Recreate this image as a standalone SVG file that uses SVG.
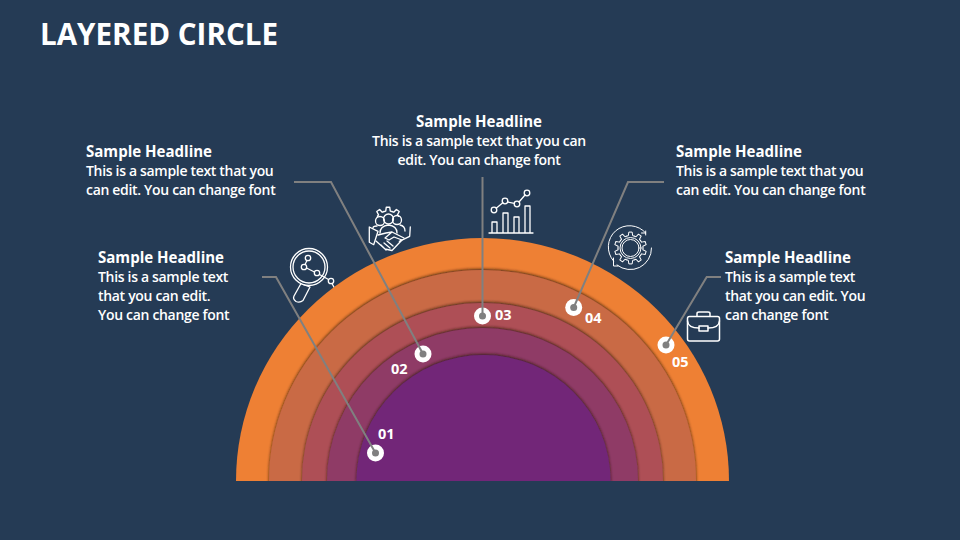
<svg xmlns="http://www.w3.org/2000/svg" width="960" height="540" viewBox="0 0 960 540">
<style>
text{font-family:"Open Sans","Noto Sans","Liberation Sans",sans-serif;fill:#fff}
.t{font-size:31px;font-weight:700}
.h{font-size:16px;font-weight:700}
.b{font-size:14px;font-weight:600;letter-spacing:-0.32px}
.c{text-anchor:middle}
.n{font-size:14.500px;font-weight:700}
.i{fill:none;stroke:#fff;stroke-width:1.300;stroke-linecap:round;stroke-linejoin:round}
.l{fill:none;stroke:#808080;stroke-width:2}
.dot{fill:#fff}
.pin{fill:#808080}
</style>
<defs>
<clipPath id="base"><rect x="0" y="0" width="960" height="481"/></clipPath>
<filter id="sh" x="-10%" y="-10%" width="120%" height="120%"><feDropShadow dx="0" dy="-1" stdDeviation="1.500" flood-color="#2a1208" flood-opacity="0.85"/></filter>
<path id="tooth" d="M-3.860-11.890L-2.170-12.310L-1.670-15.910L1.670-15.910L2.170-12.310L3.860-11.890"/>
</defs>
<rect width="960" height="540" fill="#253B55"/>
<text class="t" x="40" y="45" textLength="238" lengthAdjust="spacingAndGlyphs">LAYERED CIRCLE</text>

<g id="icon-magnifier" class="i">
<circle cx="309" cy="267" r="18.500"/><circle cx="309" cy="267" r="16"/>
<path d="M303 284.500L310 287L303 300.500Q300 303 296 301.500Q292.500 299 294 296L301 283.500"/>
<circle cx="308" cy="258" r="2.700"/><circle cx="304" cy="267" r="2.700"/><circle cx="317" cy="273" r="2.700"/><circle cx="331" cy="281" r="2.700"/>
<path d="M307 260.500L305 264.500M306.500 268L314.500 272M319.500 274.500L328.500 279.500M332 283.500L335 289"/>
</g>
<g id="icon-handshake" class="i">
<g transform="translate(388,224) scale(1.050)"><use href="#tooth" transform="rotate(-36)"/><use href="#tooth"/><use href="#tooth" transform="rotate(36)"/></g>
<circle cx="388.500" cy="219" r="5"/><path d="M380 233Q380 226 388.500 225Q397 226 397 233"/>
<circle cx="380" cy="221" r="4.500"/><circle cx="397" cy="220" r="4.500"/>
<path d="M373 228Q373 226 377 226M405 231Q405 226 400 225"/>
<path d="M369.300 227L378 231.300L373.700 244.700L369.300 242.300ZM410.300 227L409.700 236.300L399.300 241.300"/>
<path d="M378 235L386 233L392 232L404 238M376 241L385 249L392 250.500L402 240M392 232L385 238L389 240L394 237L402 240M381 245L386 250M384 243L390 248M387 241L393 246"/>
</g>
<g id="icon-chart" class="i">
<path d="M489 233H533M492 233V222H497V233M503 233V213H508V233M514 233V217H519V233M525 233V206H530V233"/>
<circle cx="494" cy="210" r="2.800"/><circle cx="505" cy="201" r="2.800"/><circle cx="517" cy="204" r="2.800"/><circle cx="527" cy="193" r="2.800"/>
<path d="M496.200 208.200L502.800 202.700M507.700 202L514.300 203.300M519 202L525 195"/>
</g>
<g id="icon-gear" class="i" style="stroke-width:1">
<circle cx="630.500" cy="248" r="10.500"/><circle cx="630.500" cy="248" r="8.500"/>
<g transform="translate(630.500,248)"><use href="#tooth"/><use href="#tooth" transform="rotate(36)"/><use href="#tooth" transform="rotate(72)"/><use href="#tooth" transform="rotate(108)"/><use href="#tooth" transform="rotate(144)"/><use href="#tooth" transform="rotate(180)"/><use href="#tooth" transform="rotate(216)"/><use href="#tooth" transform="rotate(252)"/><use href="#tooth" transform="rotate(288)"/><use href="#tooth" transform="rotate(324)"/></g>
<path d="M645.700 233A21.300 21.300 0 0 0 613.500 261M617 265A21.300 21.300 0 0 0 651.500 248M645.700 231V235M641.500 233H645.700M613.500 258V266H618"/>
</g>
<g id="icon-briefcase" class="i" style="stroke-width:1.500">
<rect x="687.500" y="316.500" width="32" height="24.500" rx="2"/>
<path d="M697 316V313.500Q697 312 699 312H708Q710 312 710 313.500V316M687.500 321Q688 328 699 328M719.500 321Q719 328 708 328"/>
<rect x="699" y="326" width="9" height="5"/>
</g>

<g id="rings" clip-path="url(#base)">
<ellipse id="ring-1" cx="482.500" cy="481" rx="246.500" ry="243" fill="#EE8034"/>
<ellipse id="ring-2" cx="482.500" cy="481" rx="213.500" ry="211" fill="#C96A45" filter="url(#sh)"/>
<ellipse id="ring-3" cx="482.500" cy="481" rx="180.500" ry="178" fill="#AE4F57" filter="url(#sh)"/>
<ellipse id="ring-4" cx="482.500" cy="481" rx="155.500" ry="153" fill="#8F3B66" filter="url(#sh)"/>
<ellipse id="ring-5" cx="483.500" cy="481" rx="127" ry="126" fill="#722878" filter="url(#sh)"/>
</g>

<g id="pins">
<circle class="dot" cx="375.500" cy="453" r="8.500"/><circle class="dot" cx="423" cy="354" r="8.500"/><circle class="dot" cx="482.500" cy="316" r="8.500"/><circle class="dot" cx="573.700" cy="307.500" r="8.500"/><circle class="dot" cx="666" cy="345" r="8.500"/>
</g>
<g id="connectors">
<path class="l" d="M262 277H276L375.500 453"/>
<path class="l" d="M294 182H331L423 354"/>
<path class="l" d="M482.500 177V316"/>
<path class="l" d="M664 182H628L573.700 307.500"/>
<path class="l" d="M721 277H706.700L666 345"/>
<circle class="pin" cx="375.500" cy="453" r="3.500"/><circle class="pin" cx="423" cy="354" r="3.500"/><circle class="pin" cx="482.500" cy="316" r="3.500"/><circle class="pin" cx="573.700" cy="307.500" r="3.500"/><circle class="pin" cx="666" cy="345" r="3.500"/>
</g>

<g id="node-01">
<text class="h" x="98" y="263" textLength="126" lengthAdjust="spacingAndGlyphs">Sample Headline</text>
<text class="b" x="98" y="282">This is a sample text</text>
<text class="b" x="98" y="301">that you can edit.</text>
<text class="b" x="98" y="320">You can change font</text>
<text class="n" x="378" y="439">01</text>
</g>
<g id="node-02">
<text class="h" x="86" y="157" textLength="126" lengthAdjust="spacingAndGlyphs">Sample Headline</text>
<text class="b" x="86" y="176">This is a sample text that you</text>
<text class="b" x="86" y="195">can edit. You can change font</text>
<text class="n" x="391" y="374">02</text>
</g>
<g id="node-03">
<text class="h" x="416" y="127" textLength="126" lengthAdjust="spacingAndGlyphs">Sample Headline</text>
<text class="b c" x="479" y="146">This is a sample text that you can</text>
<text class="b c" x="479" y="165">edit. You can change font</text>
<text class="n" x="495" y="320">03</text>
</g>
<g id="node-04">
<text class="h" x="676" y="157" textLength="126" lengthAdjust="spacingAndGlyphs">Sample Headline</text>
<text class="b" x="676" y="176">This is a sample text that you</text>
<text class="b" x="676" y="195">can edit. You can change font</text>
<text class="n" x="585" y="323">04</text>
</g>
<g id="node-05">
<text class="h" x="725" y="263" textLength="126" lengthAdjust="spacingAndGlyphs">Sample Headline</text>
<text class="b" x="725" y="282">This is a sample text</text>
<text class="b" x="725" y="301">that you can edit. You</text>
<text class="b" x="725" y="320">can change font</text>
<text class="n" x="672" y="367">05</text>
</g>
</svg>
